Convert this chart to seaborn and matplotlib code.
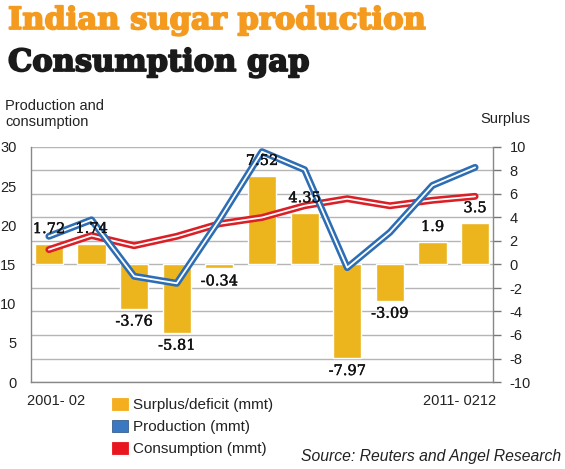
import numpy as np
import pandas as pd
import matplotlib
matplotlib.use("Agg")
import matplotlib.pyplot as plt
import matplotlib.patheffects as pe
import seaborn as sns

years = ["2001-02", "2002-03", "2003-04", "2004-05", "2005-06", "2006-07",
         "2007-08", "2008-09", "2009-10", "2010-11", "2011-12"]
surplus = [1.72, 1.74, -3.76, -5.81, -0.34, 7.52, 4.35, -7.97, -3.09, 1.9, 3.5]
production = [18.6, 20.7, 13.5, 12.6, 20.7, 29.4, 27.1, 14.6, 19.1, 25.1, 27.4]
consumption = [16.9, 18.7, 17.4, 18.6, 20.2, 21.0, 22.5, 23.4, 22.5, 23.2, 23.7]
left_ticks = [0, 5, 10, 15, 20, 25, 30]
right_ticks = list(range(-10, 11, 2))

BAR = "#ECB51E"
BLUE = "#2D6DB4"
RED = "#DA1F26"
ORANGE = "#F39A1F"

sns.set_style("white")
plt.rcParams['font.family'] = ['Liberation Sans', 'DejaVu Sans']
plt.rcParams['axes.unicode_minus'] = False

fig = plt.figure(figsize=(5.65, 4.69), dpi=100)
W, H = 565, 469
ax = fig.add_axes([31 / W, 1 - 382 / H, (493 - 31) / W, (382 - 147) / H])
ax2 = ax.twinx()

x = np.arange(len(years))
df = pd.DataFrame({"x": x, "surplus": surplus, "production": production,
                   "consumption": consumption})

sns.barplot(data=df, x="x", y="surplus", ax=ax, color=BAR, width=0.66,
            native_scale=True, saturation=1, zorder=2)
ax.set_ylim(-10, 10)
ax.set_yticks(right_ticks)
ax.yaxis.tick_right()
ax.set_xlim(-0.42, 10.42)
ax.set_xticks([])
ax.set_xlabel("")
ax.set_ylabel("")
ax.set_axisbelow(True)
ax.yaxis.grid(True, color="#B5B5B5", linewidth=1.0)
ax.tick_params(axis="y", right=True, length=6, width=1, color="#777777",
               labelsize=10.5, labelcolor="#222222", pad=6)

for col, c in [("consumption", RED), ("production", BLUE)]:
    sns.lineplot(data=df, x="x", y=col, ax=ax2, color="white", linewidth=1.3,
                 path_effects=[pe.Stroke(linewidth=5, foreground=c), pe.Normal()])
ax2.set_ylim(0, 30)
ax2.set_yticks(left_ticks)
ax2.yaxis.tick_left()
ax2.set_ylabel("")
ax2.set_xlabel("")
ax2.set_xlim(-0.42, 10.42)
ax2.tick_params(axis="y", left=False, right=False, labelsize=10.5,
                labelcolor="#222222", pad=7)
for s in ax2.spines.values():
    s.set_visible(False)

# value labels drawn on top of the lines, positioned in the surplus scale
lab_fx = [pe.withStroke(linewidth=0.3, foreground="#111111")]
for xi, v in zip(x, surplus):
    if v >= 0:
        ax2.text(xi, v + 0.7, f"{v:g}", ha="center", va="bottom",
                 transform=ax.transData, family="DejaVu Serif", fontsize=10.5,
                 color="#111111", path_effects=lab_fx, zorder=10)
    else:
        ax2.text(xi, v - 0.5, f"{v:g}", ha="center", va="top",
                 transform=ax.transData, family="DejaVu Serif", fontsize=10.5,
                 color="#111111", path_effects=lab_fx, zorder=10)

for name, s in ax.spines.items():
    s.set_color("#888888")
    s.set_linewidth(1.0)
ax.spines["top"].set_visible(False)

# Titles
fig.text(8 / W, 1 - 29 / H, "Indian sugar production", color=ORANGE,
         family="DejaVu Serif", fontweight="heavy", fontsize=22, va="baseline",
         path_effects=[pe.withStroke(linewidth=1.3, foreground=ORANGE)])
fig.text(8 / W, 1 - 71 / H, "Consumption gap", color="#1A1A1A",
         family="DejaVu Serif", fontweight="heavy", fontsize=22, va="baseline",
         path_effects=[pe.withStroke(linewidth=1.3, foreground="#1A1A1A")])

fig.text(5 / W, 1 - 110 / H, "Production and", fontsize=10.5,
         color="#222222", va="baseline")
fig.text(5 / W, 1 - 126 / H, "consumption", fontsize=10.5,
         color="#222222", va="baseline")
fig.text(480 / W, 1 - 123 / H, "Surplus", fontsize=10.5, color="#222222",
         va="baseline")

fig.text(27 / W, 1 - 405 / H, "2001- 02", fontsize=10.5, color="#222222",
         va="baseline")
fig.text(496 / W, 1 - 405 / H, "2011- 0212", fontsize=10.5, color="#222222",
         va="baseline", ha="right")

# Legend
leg_items = [("Surplus/deficit (mmt)", "#F5AE1E"),
             ("Production (mmt)", "#3B78C2"),
             ("Consumption (mmt)", "#E8161E")]
for i, (lab, c) in enumerate(leg_items):
    top = 398 + i * 22
    fig.patches.append(plt.Rectangle((112 / W, 1 - (top + 12) / H), 16 / W, 12 / H,
                                     transform=fig.transFigure, facecolor=c,
                                     edgecolor="#3A5F8F" if i == 1 else c,
                                     linewidth=0.6))
    fig.text(133 / W, 1 - (409 + i * 22) / H, lab, fontsize=11, color="#222222",
             va="baseline")

fig.text(561 / W, 1 - 461 / H, "Source: Reuters and Angel Research",
         fontsize=11.3, style="italic", color="#222222", ha="right",
         va="baseline")

fig.savefig("out.png", dpi=100)
